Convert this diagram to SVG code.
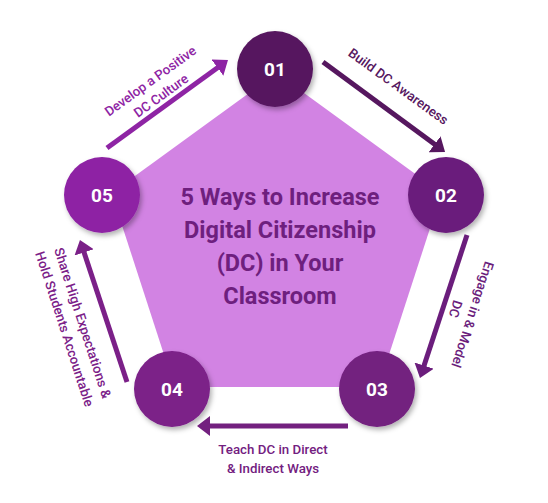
<svg xmlns="http://www.w3.org/2000/svg" width="548" height="503" viewBox="0 0 548 503">
<defs>
<style>
.num{font-family:Roboto,"Liberation Sans",sans-serif;font-weight:700;font-size:19px;fill:#fff;text-anchor:middle}
.title{font-family:Roboto,"Liberation Sans",sans-serif;font-weight:700;font-size:23.5px;fill:#6E1F7E;text-anchor:middle}
.lbl{font-family:Roboto,"Liberation Sans",sans-serif;font-weight:500;font-size:13.3px;text-anchor:middle}
.arr{stroke-width:5;fill:none}
</style>
<filter id="sh" x="-30%" y="-30%" width="160%" height="160%">
<feDropShadow dx="2" dy="3" stdDeviation="2.5" flood-color="#000" flood-opacity="0.3"/>
</filter>
<marker id="m1" viewBox="0 0 13 20" refX="3" refY="10" markerWidth="13" markerHeight="20" markerUnits="userSpaceOnUse" orient="auto"><path d="M0,0 L13,10 L0,20 z" fill="#56175F"/></marker>
<marker id="m2" viewBox="0 0 13 20" refX="3" refY="10" markerWidth="13" markerHeight="20" markerUnits="userSpaceOnUse" orient="auto"><path d="M0,0 L13,10 L0,20 z" fill="#6B1D7C"/></marker>
<marker id="m3" viewBox="0 0 13 20" refX="3" refY="10" markerWidth="13" markerHeight="20" markerUnits="userSpaceOnUse" orient="auto"><path d="M0,0 L13,10 L0,20 z" fill="#73207F"/></marker>
<marker id="m4" viewBox="0 0 13 20" refX="3" refY="10" markerWidth="13" markerHeight="20" markerUnits="userSpaceOnUse" orient="auto"><path d="M0,0 L13,10 L0,20 z" fill="#7B2088"/></marker>
<marker id="m5" viewBox="0 0 13 20" refX="3" refY="10" markerWidth="13" markerHeight="20" markerUnits="userSpaceOnUse" orient="auto"><path d="M0,0 L13,10 L0,20 z" fill="#8E24A4"/></marker>
</defs>
<rect width="548" height="503" fill="#fff"/>
<g id="pentagon">
<polygon points="276.5,73 441.5,193 378.5,387 174.5,387 111.5,193" fill="#D283E3"/>
<text class="title" x="280" y="205">5 Ways to Increase</text>
<text class="title" x="280" y="238">Digital Citizenship</text>
<text class="title" x="280" y="271">(DC) in Your</text>
<text class="title" x="280" y="304">Classroom</text>
</g>
<g id="connectors">
<line class="arr" x1="323" y1="62" x2="437" y2="146" stroke="#56175F" marker-end="url(#m1)"/>
<line class="arr" x1="467" y1="235" x2="423.1" y2="368.5" stroke="#6B1D7C" marker-end="url(#m2)"/>
<line class="arr" x1="348" y1="426" x2="207" y2="426" stroke="#73207F" marker-end="url(#m3)"/>
<line class="arr" x1="127" y1="382" x2="83.1" y2="249.5" stroke="#7B2088" marker-end="url(#m4)"/>
<line class="arr" x1="107" y1="148" x2="219.9" y2="65.9" stroke="#8E24A4" marker-end="url(#m5)"/>
<text class="lbl" fill="#56175F" transform="translate(398,87) rotate(36)" y="4">Build DC Awareness</text>
<g transform="translate(463.5,311.5) rotate(108)">
<text class="lbl" fill="#6B1D7C" y="-5">Engage in &amp; Model</text>
<text class="lbl" fill="#6B1D7C" y="13">DC</text>
</g>
<text class="lbl" fill="#73207F" x="273" y="454">Teach DC in Direct</text>
<text class="lbl" fill="#73207F" x="273" y="473">&amp; Indirect Ways</text>
<g transform="translate(73.5,326) rotate(72)">
<text class="lbl" fill="#7B2088" y="-5">Share High Expectations &amp;</text>
<text class="lbl" fill="#7B2088" y="14">Hold Students Accountable</text>
</g>
<g transform="translate(155.5,88) rotate(-36)">
<text class="lbl" fill="#8E24A4" y="-4">Develop a Positive</text>
<text class="lbl" fill="#8E24A4" y="14">DC Culture</text>
</g>
</g>
<g id="n01"><circle cx="275" cy="69" r="38" fill="#56175F" filter="url(#sh)"/><text class="num" x="275" y="76">01</text></g>
<g id="n02"><circle cx="446" cy="195" r="38" fill="#6B1D7C" filter="url(#sh)"/><text class="num" x="446" y="202">02</text></g>
<g id="n03"><circle cx="377" cy="389" r="38" fill="#73207F" filter="url(#sh)"/><text class="num" x="377" y="396">03</text></g>
<g id="n04"><circle cx="172" cy="389" r="38" fill="#7B2088" filter="url(#sh)"/><text class="num" x="172" y="396">04</text></g>
<g id="n05"><circle cx="102" cy="195" r="38" fill="#8E24A4" filter="url(#sh)"/><text class="num" x="102" y="202">05</text></g>
</svg>
